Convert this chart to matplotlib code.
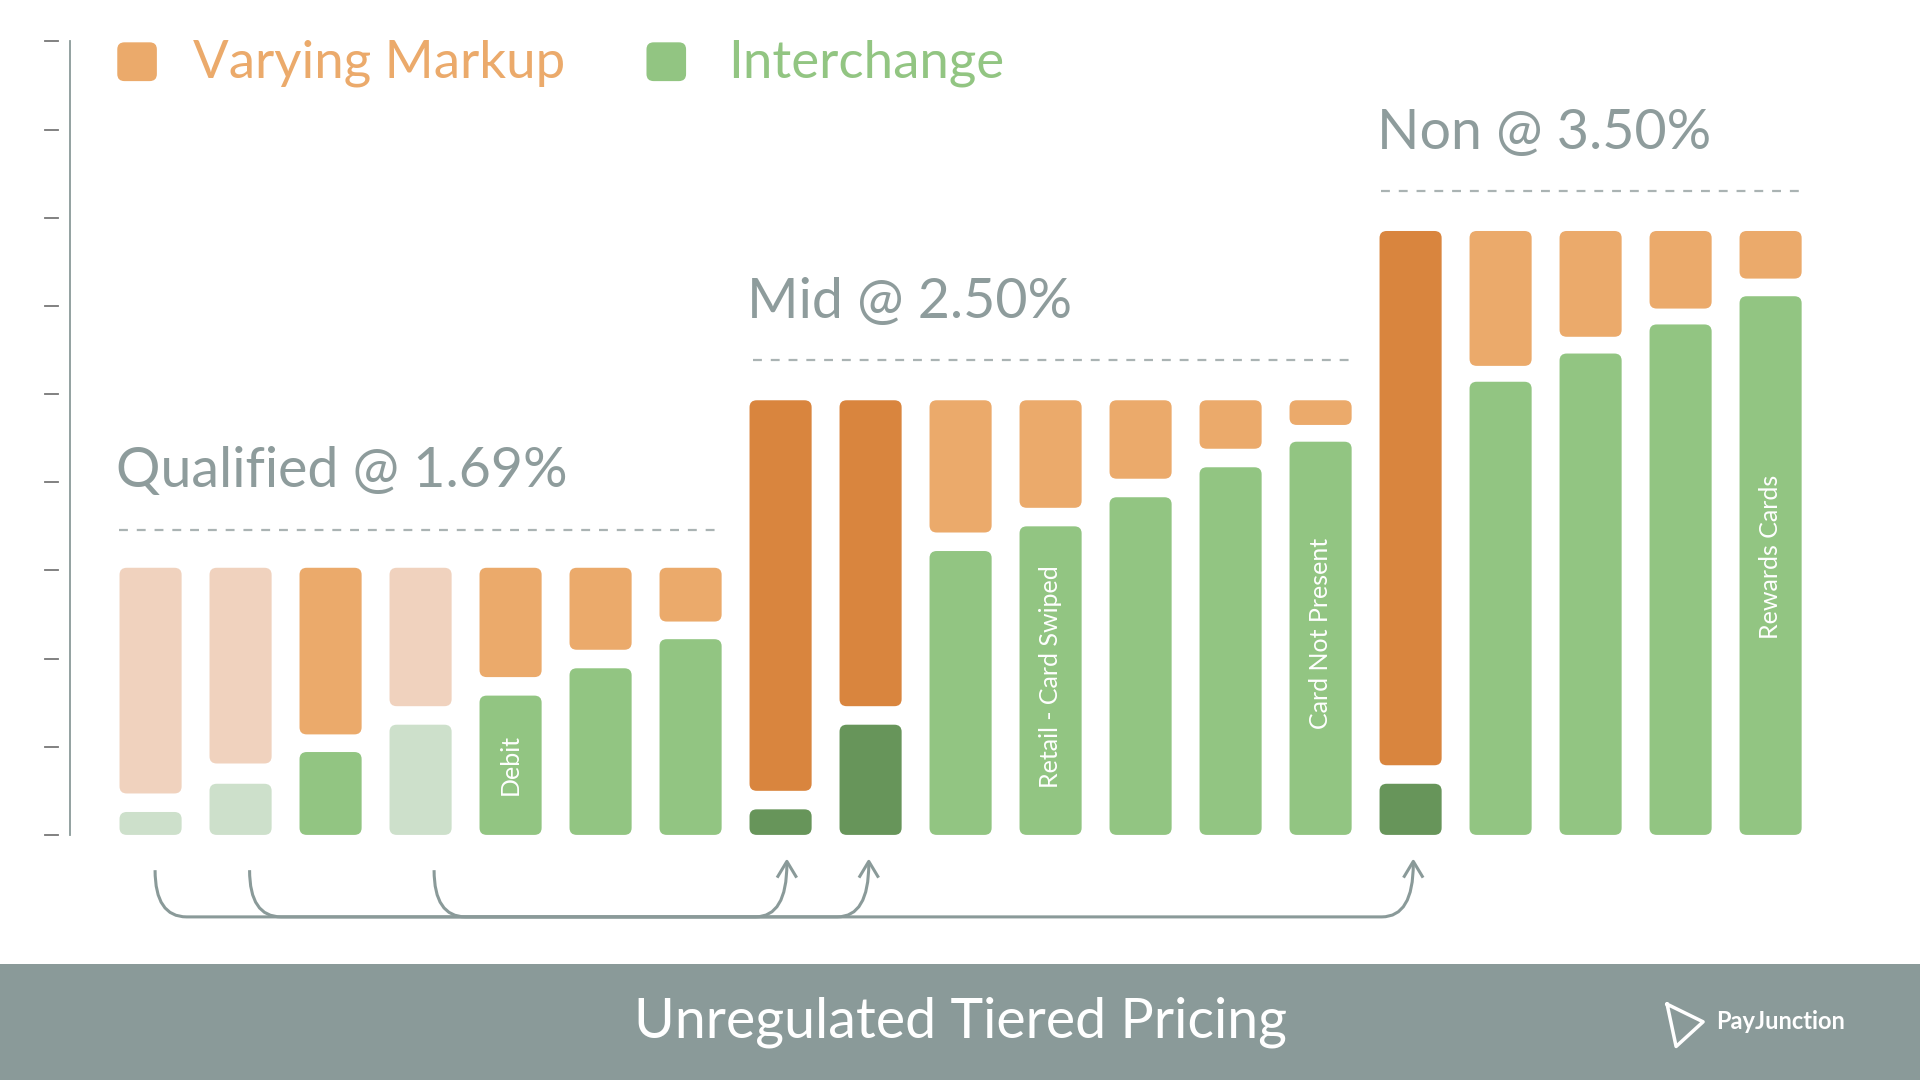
import matplotlib.pyplot as plt
from matplotlib.patches import FancyBboxPatch, Rectangle
from matplotlib.path import Path
from matplotlib.patches import PathPatch

plt.rcParams['font.family'] = ['Lato', 'DejaVu Sans']

# data (units of one axis tick)
green_top = [0.26, 0.58, 0.94, 1.25, 1.58, 1.89, 2.22, 0.29, 1.25, 3.22, 3.50, 3.83, 4.17, 4.46, 0.58, 5.14, 5.46, 5.79, 6.11]
orange_bottom = [0.47, 0.81, 1.14, 1.46, 1.79, 2.10, 2.42, 0.50, 1.46, 3.43, 3.71, 4.04, 4.38, 4.65, 0.79, 5.32, 5.65, 5.97, 6.31]
orange_top = [3.03] * 7 + [4.93] * 7 + [6.85] * 5
shade = ['light', 'light', 'normal', 'light', 'normal', 'normal', 'normal',
         'dark', 'dark', 'normal', 'normal', 'normal', 'normal', 'normal',
         'dark', 'normal', 'normal', 'normal', 'normal']
bar_labels = {4: ('Debit', 0.8), 10: ('Retail - Card Swiped', 1.8), 13: ('Card Not Present', 2.28), 18: ('Rewards Cards', 3.15)}
tiers = [('Qualified @ 1.69%', -0.38, 4.12, 3.46, -0.35, 6.35),
         ('Mid @ 2.50%', 6.63, 6.04, 5.39, 6.69, 13.36),
         ('Non @ 3.50%', 13.63, 7.96, 7.30, 13.67, 18.35)]
arrows = [(0.05, 7.07), (1.1, 7.98), (3.15, 14.03)]

colors = {'light': ('#F0D2BE', '#CDE0CB'), 'normal': ('#EBAA6B', '#92C582'), 'dark': ('#D9853E', '#67955A')}
grey = '#8A9A99'

fig = plt.figure(figsize=(19.2, 10.8), dpi=100)
ax = fig.add_axes([0, 0, 1, 1])
ax.set_xlim(-1.673, 19.66)
ax.set_ylim(-2.78, 9.47)
ax.axis('off')

w = 0.69
def rbox(x0, y0, x1, y1, c):
    ax.add_patch(FancyBboxPatch((x0, y0), x1 - x0, y1 - y0,
                 boxstyle='round,pad=0,rounding_size=0.08', fc=c, ec='none', mutation_aspect=1.0))

for i in range(len(green_top)):
    oc, gc = colors[shade[i]]
    rbox(i - w / 2, 0, i + w / 2, green_top[i], gc)
    rbox(i - w / 2, orange_bottom[i], i + w / 2, orange_top[i], oc)
    if i in bar_labels:
        t, y = bar_labels[i]
        ax.text(i, y, t, rotation=90, color='white', fontsize=18, ha='center', va='center')

# axis
ax.plot([-0.9, -0.9], [0, 9.0], color='#8A9A99', lw=1.3)
for k in range(10):
    ax.plot([-1.17, -1.03], [k, k], color='#777777', lw=1.3)

for t, tx, ty, dy, x0, x1 in tiers:
    ax.text(tx, ty, t, fontsize=40, color='#8E9C9C', ha='left', va='center')
    ax.plot([x0, x1], [dy, dy], color='#AAB3B3', lw=1.6, ls=(0, (4, 4)))

# legend
rbox(-0.37, 8.55, 0.07, 8.99, '#EBAA6B')
ax.text(0.47, 8.75, 'Varying Markup', fontsize=38, color='#EBAA6B', va='center')
rbox(5.51, 8.55, 5.95, 8.99, '#92C582')
ax.text(6.42, 8.75, 'Interchange', fontsize=38, color='#92C582', va='center')

# connecting arrows
for xs, xe in arrows:
    yb, r = -0.93, 0.35
    verts = [(xs, -0.4), (xs, yb), (xs + r, yb), (xe - r, yb), (xe, yb), (xe, -0.33)]
    codes = [Path.MOVETO, Path.CURVE3, Path.CURVE3, Path.LINETO, Path.CURVE3, Path.CURVE3]
    ax.add_patch(PathPatch(Path(verts, codes), fc='none', ec='#8A9A99', lw=2.2))
    ax.plot([xe - 0.1, xe, xe + 0.1], [-0.47, -0.3, -0.47], color='#8A9A99', lw=2.2)

# footer band
ax.add_patch(Rectangle((-1.673, -2.78), 21.4, 2.78 - 1.46, fc=grey, ec='none'))
ax.text(9.0, -2.12, 'Unregulated Tiered Pricing', fontsize=40, color='white', ha='center', va='center')
ax.text(17.4, -2.12, 'PayJunction', fontsize=17, color='white', ha='left', va='center', fontweight='bold')
ax.plot([16.85, 17.25, 16.95, 16.85], [-1.92, -2.12, -2.4, -1.92], color='white', lw=2.5, solid_joinstyle='round')

fig.savefig('out.png', dpi=100)
